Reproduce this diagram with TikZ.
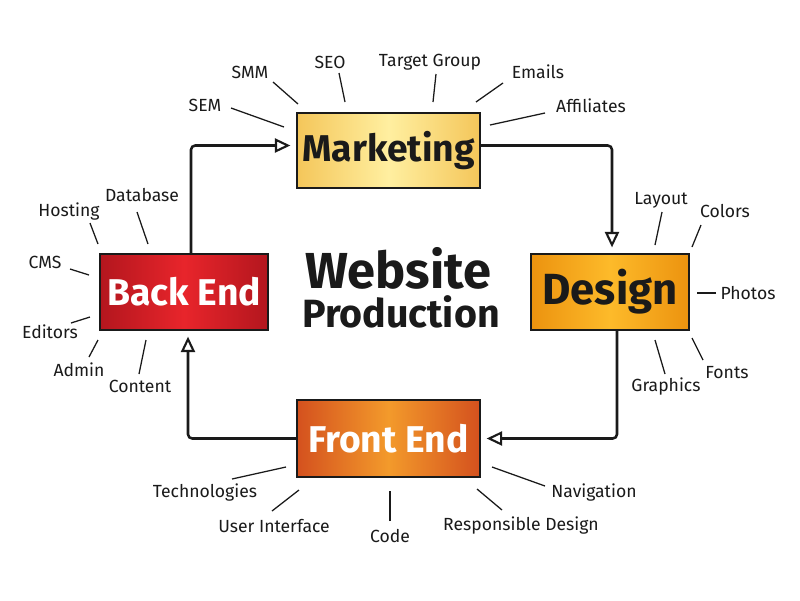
\documentclass[tikz,border=0pt]{standalone}
\usepackage{fontspec}
\setmainfont{Fira Sans}
\usetikzlibrary{arrows.meta}
\definecolor{mkA}{HTML}{F4C65A}
\definecolor{mkB}{HTML}{FFEFA0}
\definecolor{dsA}{HTML}{EC930F}
\definecolor{dsB}{HTML}{FDBA2A}
\definecolor{beA}{HTML}{B3161E}
\definecolor{beB}{HTML}{E8252B}
\definecolor{feA}{HTML}{D4511E}
\definecolor{feB}{HTML}{F39A2B}
\definecolor{ink}{HTML}{1A1A1A}
\tikzset{
  boxnode/.style={draw=ink, line width=1.4pt, inner sep=0pt, font=\bfseries\fontsize{26.5}{30}\selectfont},
  lbl/.style={font=\fontsize{12.5}{14}\selectfont, text=ink, inner sep=1pt},
  leader/.style={draw=ink, line width=0.9pt},
  flow/.style={draw=ink, line width=1.8pt, rounded corners=3pt, -{Triangle[open, length=11pt, width=10pt, line width=1.5pt]}, shorten >=4pt},
}
\begin{document}
\begin{tikzpicture}[x=0.025cm, y=-0.025cm]
\useasboundingbox[fill=white] (0,0) rectangle (800,600);

% boxes
\node[boxnode, minimum width=4.575cm, minimum height=1.875cm, left color=mkA, right color=mkA, middle color=mkB, text=ink] (marketing) at (388.5,150.5) {Marketing};
\node[boxnode, minimum width=3.95cm, minimum height=1.9cm, left color=dsA, right color=dsA, middle color=dsB, text=ink, font=\bfseries\fontsize{31}{34}\selectfont] (design) at (610,292) {Design};
\node[boxnode, minimum width=4.2cm, minimum height=1.9cm, left color=beA, right color=beA, middle color=beB, text=white] (backend) at (184,292) {Back End};
\node[boxnode, minimum width=4.575cm, minimum height=1.925cm, left color=feA, right color=feA, middle color=feB, text=white] (frontend) at (388.5,438.5) {Front End};

% title
\node[font=\bfseries\fontsize{36}{38}\selectfont, text=ink] (title1) at (398,268) {Website};
\node[font=\bfseries\fontsize{28}{32}\selectfont, text=ink] (title2) at (401,312) {Production};

% cycle connectors
\draw[flow] ([xshift=0.175cm]backend.north) |- ([yshift=0.125cm]marketing.west);
\draw[flow] ([yshift=0.125cm]marketing.east) -| ([xshift=0.05cm]design.north);
\draw[flow] ([xshift=0.175cm]design.south) |- (frontend.east);
\draw[flow] (frontend.west) -| ([xshift=0.1cm]backend.south);

% Marketing labels
\node[lbl] (sem) at (205,105) {SEM};
\node[lbl] (smm) at (250,72) {SMM};
\node[lbl] (seo) at (330,62) {SEO};
\node[lbl] (tg) at (430,62) {Target Group};
\node[lbl] (emails) at (538,72) {Emails};
\node[lbl] (aff) at (591,106) {Affiliates};
\coordinate (semA) at (231,108); \coordinate (semB) at (284,127);
\coordinate (smmA) at (273,82); \coordinate (smmB) at (298,104);
\coordinate (seoA) at (339,73); \coordinate (seoB) at (345,102);
\coordinate (tgA) at (436,74); \coordinate (tgB) at (433,102);
\coordinate (emA) at (503,83); \coordinate (emB) at (476,102);
\coordinate (afA) at (545,113); \coordinate (afB) at (490,125);
\draw[leader] (semA) -- (semB);
\draw[leader] (smmA) -- (smmB);
\draw[leader] (seoA) -- (seoB);
\draw[leader] (tgA) -- (tgB);
\draw[leader] (emA) -- (emB);
\draw[leader] (afA) -- (afB);

% Back End labels
\node[lbl] (db) at (142,195) {Database};
\node[lbl] (host) at (69,212) {Hosting};
\node[lbl] (cms) at (45,262) {CMS};
\node[lbl] (edit) at (50,332) {Editors};
\node[lbl] (admin) at (79,370) {Admin};
\node[lbl] (content) at (140,386) {Content};
\coordinate (dbA) at (137,212); \coordinate (dbB) at (148,244);
\coordinate (hoA) at (90,223); \coordinate (hoB) at (98,244);
\coordinate (cmA) at (70,269); \coordinate (cmB) at (89,275);
\coordinate (edA) at (71,323); \coordinate (edB) at (90,317);
\coordinate (adA) at (89,357); \coordinate (adB) at (98,340);
\coordinate (coA) at (139,374); \coordinate (coB) at (146,340);
\draw[leader] (dbA) -- (dbB);
\draw[leader] (hoA) -- (hoB);
\draw[leader] (cmA) -- (cmB);
\draw[leader] (edA) -- (edB);
\draw[leader] (adA) -- (adB);
\draw[leader] (coA) -- (coB);

% Design labels
\node[lbl] (layout) at (661,200) {Layout};
\node[lbl] (colors) at (725,211) {Colors};
\node[lbl] (photos) at (748,293) {Photos};
\node[lbl] (fonts) at (727,373) {Fonts};
\node[lbl] (graphics) at (666,387) {Graphics};
\coordinate (laA) at (662,212); \coordinate (laB) at (655,245);
\coordinate (clA) at (701,225); \coordinate (clB) at (692,247);
\coordinate (phA) at (716,293); \coordinate (phB) at (697,293);
\coordinate (foA) at (703,360); \coordinate (foB) at (692,338);
\coordinate (grA) at (665,374); \coordinate (grB) at (655,340);
\draw[leader] (laA) -- (laB);
\draw[leader] (clA) -- (clB);
\draw[leader] (phA) -- (phB);
\draw[leader] (foA) -- (foB);
\draw[leader] (grA) -- (grB);

% Front End labels
\node[lbl] (tech) at (205,493) {Technologies};
\node[lbl] (ui) at (274,526) {User Interface};
\node[lbl] (code) at (390,536) {Code};
\node[lbl] (resp) at (521,526) {Responsible Design};
\node[lbl] (nav) at (594,493) {Navigation};
\coordinate (teA) at (232,479); \coordinate (teB) at (286,467);
\coordinate (uiA) at (272,511); \coordinate (uiB) at (299,490);
\coordinate (cdA) at (390,521); \coordinate (cdB) at (390,491);
\coordinate (reA) at (502,510); \coordinate (reB) at (477,489);
\coordinate (naA) at (545,486); \coordinate (naB) at (492,467);
\draw[leader] (teA) -- (teB);
\draw[leader] (uiA) -- (uiB);
\draw[leader] (cdA) -- (cdB);
\draw[leader] (reA) -- (reB);
\draw[leader] (naA) -- (naB);
\end{tikzpicture}
\end{document}
